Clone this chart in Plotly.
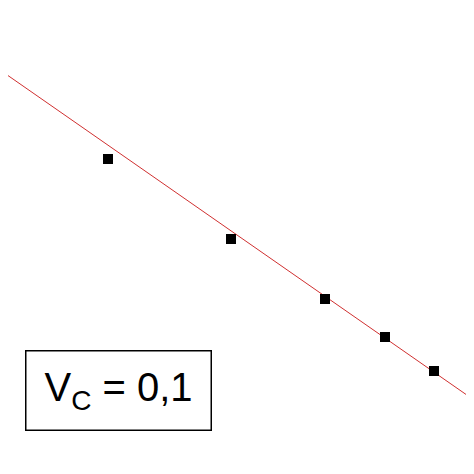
import plotly.graph_objects as go

pts_x = [108, 231, 325, 385, 434, 471]
pts_y = [159, 239, 299, 337, 371, 396]
line_x = [0, 474]
line_y = [70, 400]

fig = go.Figure()
fig.add_trace(go.Scatter(x=line_x, y=line_y, mode="lines", line=dict(color="#d03030", width=1),
                         cliponaxis=False))
fig.add_trace(go.Scatter(x=pts_x, y=pts_y, mode="markers", cliponaxis=False,
                         marker=dict(symbol="square", size=10, color="black")))
fig.add_annotation(x=118, y=390, xref="x", yref="y", text="V<sub>C</sub> = 0,1",
                   showarrow=False, font=dict(family="Liberation Sans", size=40, color="black"),
                   bordercolor="black", borderwidth=1.5, borderpad=10, bgcolor="white",
                   width=164, height=58)
fig.update_xaxes(range=[8, 482], visible=False)
fig.update_yaxes(range=[482, 8], visible=False)
fig.update_layout(width=474, height=474, margin=dict(l=0, r=0, t=0, b=0),
                  plot_bgcolor="white", paper_bgcolor="white", showlegend=False)
fig.write_html("out.html")
